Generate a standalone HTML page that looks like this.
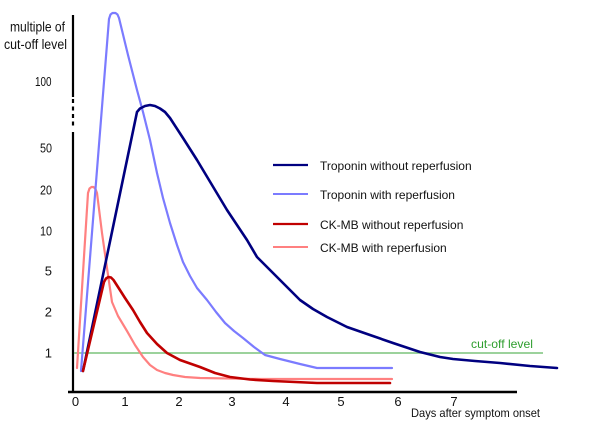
<!DOCTYPE html>
<html><head><meta charset="utf-8"><style>
html,body{margin:0;padding:0;background:#fff;}
svg{display:block;}
text{font-family:"Liberation Sans",Arial,sans-serif;font-size:12px;fill:#111;}
.tk{font-size:13px;}
.yl{font-size:13.5px;}
</style></head><body>
<svg width="600" height="422" viewBox="0 0 600 422" xmlns="http://www.w3.org/2000/svg">
<rect width="600" height="422" fill="#fff"/>
<!-- y axis -->
<line x1="73" y1="15" x2="73" y2="97" stroke="#000" stroke-width="2.2"/>
<line x1="73" y1="99" x2="73" y2="126" stroke="#000" stroke-width="2.2" stroke-dasharray="4 3.5"/>
<line x1="73" y1="132" x2="73" y2="393" stroke="#000" stroke-width="2.2"/>
<!-- x axis -->
<line x1="68" y1="392" x2="517" y2="392" stroke="#000" stroke-width="2.4"/>
<!-- cut-off line -->
<line x1="74" y1="353" x2="543" y2="353" stroke="#7cc47c" stroke-width="1.4"/>
<text x="471" y="348" textLength="62" lengthAdjust="spacingAndGlyphs" style="fill:#2e9e2e">cut-off level</text>

<!-- y labels -->
<text class="yl" x="10" y="31.5" textLength="55" lengthAdjust="spacingAndGlyphs">multiple of</text>
<text class="yl" x="4" y="49" textLength="63" lengthAdjust="spacingAndGlyphs">cut-off level</text>
<g text-anchor="end" class="tk">
<text class="tk" x="51.5" y="86" textLength="16.5" lengthAdjust="spacingAndGlyphs">100</text>
<text class="tk" x="52" y="152.5" textLength="12" lengthAdjust="spacingAndGlyphs">50</text>
<text class="tk" x="52" y="194.5" textLength="12" lengthAdjust="spacingAndGlyphs">20</text>
<text class="tk" x="52" y="235.5" textLength="12" lengthAdjust="spacingAndGlyphs">10</text>
<text class="tk" x="52" y="275.5">5</text>
<text class="tk" x="52" y="316.5">2</text>
<text class="tk" x="52" y="357.5">1</text>
</g>
<!-- x labels -->
<g text-anchor="middle">
<text class="tk" x="75.5" y="406">0</text>
<text class="tk" x="125" y="406">1</text>
<text class="tk" x="179" y="406">2</text>
<text class="tk" x="232" y="406">3</text>
<text class="tk" x="286" y="406">4</text>
<text class="tk" x="341" y="406">5</text>
<text class="tk" x="398" y="406">6</text>
<text class="tk" x="454" y="406">7</text>
</g>
<text x="411" y="417" textLength="129" lengthAdjust="spacingAndGlyphs">Days after symptom onset</text>

<!-- legend -->
<line x1="273" y1="165" x2="308" y2="165" stroke="#000080" stroke-width="2.2"/>
<line x1="273" y1="194" x2="308" y2="194" stroke="#7b7bff" stroke-width="2"/>
<line x1="273" y1="224" x2="308" y2="224" stroke="#c00000" stroke-width="2.2"/>
<line x1="273" y1="247" x2="308" y2="247" stroke="#ff8080" stroke-width="2"/>
<text x="320" y="170">Troponin without reperfusion</text>
<text x="320" y="199">Troponin with reperfusion</text>
<text x="320" y="229">CK-MB without reperfusion</text>
<text x="320" y="252">CK-MB with reperfusion</text>

<g fill="none" stroke-linejoin="round" stroke-linecap="round">
<!-- CK-MB with reperfusion (pink) -->
<polyline stroke="#ff8080" stroke-width="2.2" points="77,368 88,193 89.5,188.5 91.5,187 93.5,187 95.5,189 97,193 102,233 107,268 112,302 118,316 127,331 135,345 143,357 150,365 157,370 165,373 173,375 185,377 200,378 260,379 330,379 392,379"/>
<!-- Troponin with reperfusion (light blue) -->
<polyline stroke="#7b7bff" stroke-width="2.2" points="81,371 109,19 110.5,14.5 112.5,13 115.5,13 117.5,14.5 119,18 128,55 137,90 143,112 150,140 157,173 163,198 170,223 177,245 183,262 190,276 197,288 207,300 216,312 225,323 234,331 243,338 254,347 265,355 280,359 300,364 317,368 350,368 392,368"/>
<!-- Troponin without reperfusion (navy) -->
<polyline stroke="#000080" stroke-width="2.6" points="83,371 137,112 140,108.5 145,106 150,105 155,106 160,108.5 165,112 170,118 183,138 197,160 212,185 227,210 247,240 257,257 265,265 273,273 287,287 300,300 313,309 327,317 347,327 370,335 393,343 420,352 440,357 453,359 475,361 500,363 530,366 557,368"/>
<!-- CK-MB without reperfusion (dark red) -->
<polyline stroke="#c00000" stroke-width="2.6" points="83,371 104,282 106,278.5 108.5,277 111,277.5 113.5,280 118,287 125,298 133,310 140,322 147,333 157,344 167,353 180,360 200,367 215,373 230,377 250,379.5 273,381 317,383 390,383"/>
</g>
</svg>
</body></html>
